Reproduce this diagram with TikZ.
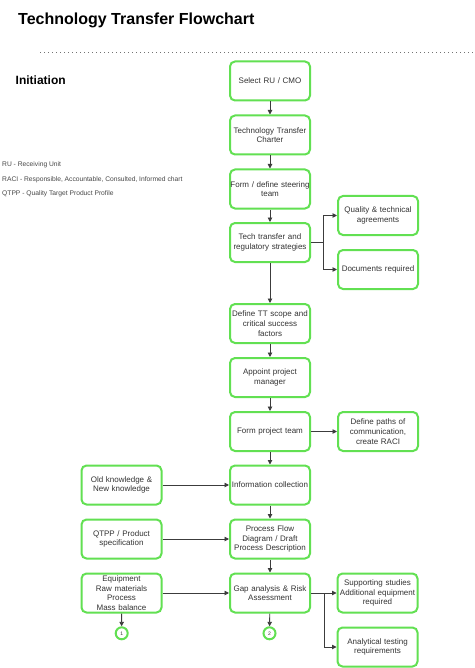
\documentclass[tikz,border=0pt]{standalone}
\usepackage{fontspec}
\setmainfont{Liberation Sans}
\usetikzlibrary{arrows.meta,calc}
\definecolor{boxgreen}{RGB}{98,224,82}
\definecolor{txt}{RGB}{51,51,51}
\definecolor{arrc}{RGB}{60,60,60}
\hyphenpenalty=10000
\hbadness=10000
\hfuzz=20pt
\begin{document}
\begin{tikzpicture}[x=1pt,y=-1pt,
  stepbox/.style={draw=boxgreen,line width=2pt,rounded corners=5pt,
    minimum width=80pt,minimum height=39pt,inner sep=0pt,
    text width=80pt,align=center,text=txt,
    font=\fontsize{8}{9.7}\selectfont},
  conn/.style={circle,draw=boxgreen,line width=2pt,minimum size=12pt,inner sep=0pt,
    text=txt,font=\fontsize{5}{6}\selectfont},
  arr/.style={draw=arrc,line width=0.9pt,-{Triangle[length=4.5pt,width=4.5pt]}},
  ln/.style={draw=arrc,line width=0.9pt},
  legend/.style={anchor=west,inner sep=0pt,text=black!72,font=\fontsize{6.7}{7.5}\selectfont}]
\useasboundingbox (0,0) rectangle (474,668);
\fill[white] (0,0) rectangle (474,668);

\node[anchor=west,inner sep=0pt,font=\fontsize{16}{18}\bfseries] (title) at (18,20) {Technology Transfer Flowchart};
\draw[black!55,line width=1pt,dash pattern=on 1pt off 3pt] (40,53) -- (476,53);
\node[anchor=west,inner sep=0pt,font=\fontsize{12}{14}\bfseries] (init) at (15.5,80.5) {Initiation};

\node[legend] (l1) at (2,165) {RU - Receiving Unit};
\node[legend] (l2) at (2,180) {RACI - Responsible, Accountable, Consulted, Informed chart};
\node[legend] (l3) at (2,194) {QTPP - Quality Target Product Profile};

\node[stepbox] (sel) at (270,81) {Select RU / CMO};
\node[stepbox] (chart) at (270,135) {Technology Transfer\\Charter};
\node[stepbox] (steer) at (270,189) {Form / define steering\\team};
\node[stepbox] (tech) at (270,242.5) {Tech transfer and\\regulatory strategies};
\node[stepbox] (qual) at (378,215.5) {Quality \& technical\\agreements};
\node[stepbox] (docs) at (378,269.5) {Documents required};
\node[stepbox] (scope) at (270,323.5) {Define TT scope and\\critical success\\factors};
\node[stepbox] (pm) at (270,377.5) {Appoint project\\manager};
\node[stepbox] (team) at (270,431.5) {Form project team};
\node[stepbox] (paths) at (378,431.5) {Define paths of\\communication,\\create RACI};
\node[stepbox] (info) at (270,485) {Information collection};
\node[stepbox] (know) at (121.5,485) {Old knowledge \&\\New knowledge};
\node[stepbox] (pfd) at (270,539) {Process Flow\\Diagram / Draft\\Process Description};
\node[stepbox] (qtpp) at (121.5,539) {QTPP / Product\\specification};
\node[stepbox] (gap) at (270,593) {Gap analysis \& Risk\\Assessment};
\node[stepbox] (equip) at (121.5,593) {Equipment\\Raw materials\\Process\\Mass balance};
\node[stepbox] (supp) at (377.5,593) {Supporting studies\\Additional equipment\\required};
\node[stepbox] (anal) at (377.5,647) {Analytical testing\\requirements};
\node[conn] (c1) at (121.7,633.3) {1};
\node[conn] (c2) at (269.5,633.3) {2};

\draw[arr] (sel) -- (chart);
\draw[arr] (chart) -- (steer);
\draw[arr] (steer) -- (tech);
\draw[arr] (tech) -- (scope);
\draw[arr] (scope) -- (pm);
\draw[arr] (pm) -- (team);
\draw[arr] (team) -- (info);
\draw[arr] (info) -- (pfd);
\draw[arr] (pfd) -- (gap);
\draw[arr] (gap) -- (c2);
\draw[arr] (equip) -- (c1);
\draw[arr] (team) -- (paths);
\draw[arr] (know) -- (info);
\draw[arr] (qtpp) -- (pfd);
\draw[arr] (equip) -- (gap);

\coordinate (s1) at (323,242.5);
\draw[ln] (tech.east) -- (s1);
\draw[arr] (s1) |- (qual.west);
\draw[arr] (s1) |- (docs.west);

\coordinate (s2) at (324,593);
\draw[arr] (gap.east) -- (supp.west);
\draw[arr] (s2) |- (anal.west);
\end{tikzpicture}
\end{document}
